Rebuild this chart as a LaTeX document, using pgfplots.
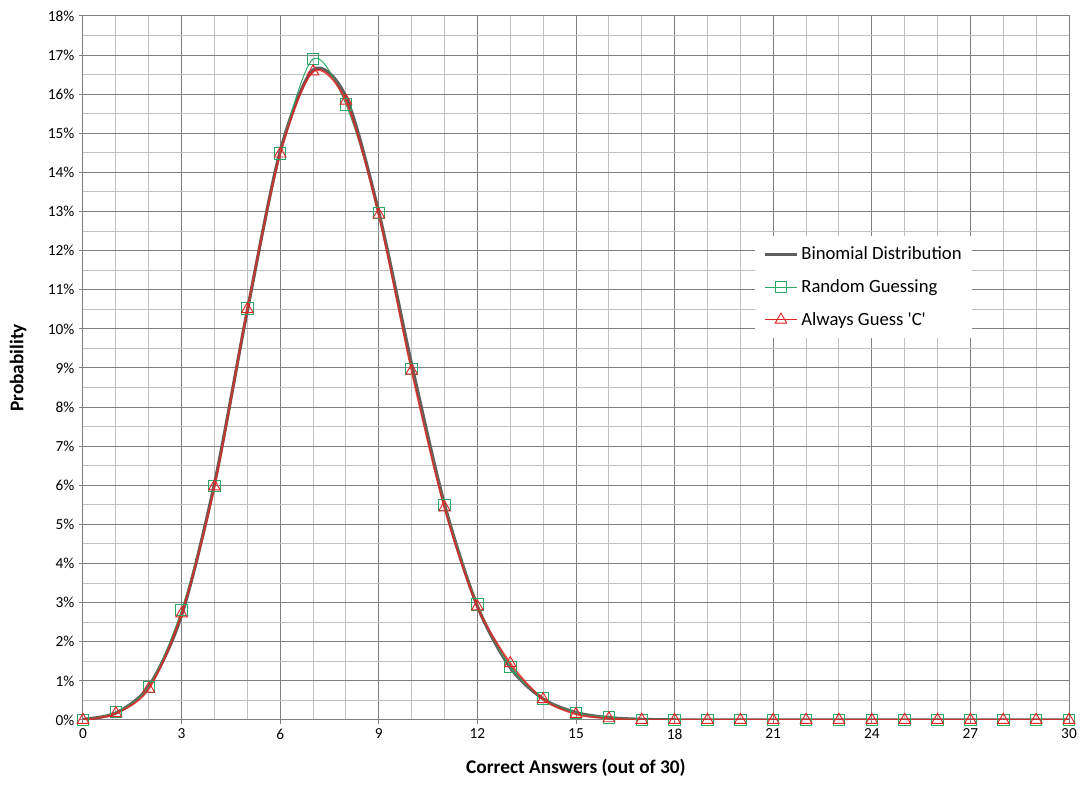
\documentclass[border=0pt]{standalone}
\usepackage{fontspec}
\setmainfont{Carlito}
\usepackage{pgfplots}
\pgfplotsset{compat=1.18}
\usepackage{pgfplotstable}

\definecolor{gridmaj}{RGB}{128,128,128}
\definecolor{gridmin}{RGB}{192,192,192}
\definecolor{binom}{RGB}{96,96,96}
\definecolor{guessgreen}{RGB}{40,170,100}
\definecolor{guessred}{RGB}{225,35,35}

\pgfplotsset{
  legline/.style={legend image code/.code={\draw[##1, line width=2.6pt] (0pt,0pt) -- (24pt,0pt);}},
  legmark/.style={legend image code/.code={\draw[mark repeat=2, mark phase=2, ##1, line width=0.7pt, opacity=1] plot coordinates {(0pt,0pt) (12pt,0pt) (24pt,0pt)};}},
}

% k, probability in percent
\pgfplotstableread{
k p
0 0.018
1 0.18
2 0.86
3 2.68
4 6.04
5 10.47
6 14.54
7 16.62
8 15.93
9 12.98
10 9.09
11 5.51
12 2.91
13 1.34
14 0.54
15 0.19
16 0.06
17 0.016
18 0.004
19 0.0
20 0.0
21 0.0
22 0.0
23 0.0
24 0.0
25 0.0
26 0.0
27 0.0
28 0.0
29 0.0
30 0.0
}\binomtab

\pgfplotstableread{
k p
0 0.0
1 0.2
2 0.85
3 2.82
4 5.98
5 10.52
6 14.48
7 16.9
8 15.74
9 12.97
10 8.97
11 5.5
12 2.95
13 1.36
14 0.55
15 0.18
16 0.07
17 0.0
18 0.0
19 0.0
20 0.0
21 0.0
22 0.0
23 0.0
24 0.0
25 0.0
26 0.0
27 0.0
28 0.0
29 0.0
30 0.0
}\randtab

\pgfplotstableread{
k p
0 0.0
1 0.17
2 0.8
3 2.72
4 5.97
5 10.5
6 14.48
7 16.58
8 15.83
9 12.92
10 8.93
11 5.43
12 2.9
13 1.45
14 0.53
15 0.15
16 0.04
17 0.0
18 0.0
19 0.0
20 0.0
21 0.0
22 0.0
23 0.0
24 0.0
25 0.0
26 0.0
27 0.0
28 0.0
29 0.0
30 0.0
}\ctab

\begin{document}
\begin{tikzpicture}
\path[use as bounding box] (-62.25pt,-59.25pt) rectangle (752.25pt,540pt);
\begin{axis}[
  scale only axis,
  width=739.5pt, height=528pt,
  xmin=0, xmax=30, ymin=0, ymax=18,
  xtick={0,3,...,30}, minor x tick num=2,
  ytick={0,1,...,18}, minor y tick num=1,
  yticklabel={\pgfmathprintnumber{\tick}\%},
  /pgf/number format/assume math mode=true,
  tick label style={font=\fontsize{11.5}{13}\selectfont, black},
  grid=both,
  major grid style={gridmaj, line width=0.75pt},
  minor grid style={gridmin, line width=0.75pt},
  axis line style={gridmaj, line width=0.75pt},
  tick align=outside,
  major tick length=3pt, minor tick length=0pt,
  tick style={gridmaj, line width=0.75pt},
  xtick pos=bottom, ytick pos=left,
  xlabel={\textbf{Correct Answers (out of 30)}},
  ylabel={\textbf{Probability}},
  every axis x label/.style={at={(axis description cs:0.5,-0.0682)}, anchor=center, font=\fontsize{14.5}{16}\selectfont},
  every axis y label/.style={at={(axis description cs:-0.0659,0.5)}, rotate=90, anchor=center, font=\fontsize{14.5}{16}\selectfont},
  legend style={at={(rel axis cs:0.6815,0.6875)}, anchor=north west,
    draw=none, fill=white, font=\fontsize{14}{16}\selectfont,
    row sep=9.3pt, inner sep=6pt},
  legend cell align=left,
]
\addplot[binom, line width=2.4pt, smooth, tension=0.5, legline]
  table[x=k, y=p] {\binomtab};
\addlegendentry{Binomial\ Distribution}
\addplot[guessgreen, line width=0.7pt, smooth, tension=0.5, mark=square, mark size=4.3pt,
  mark options={line width=0.7pt}, legmark]
  table[x=k, y=p] {\randtab};
\addlegendentry{Random Guessing}
\addplot[guessred, line width=1.5pt, opacity=0.8, smooth, tension=0.5, mark=triangle, mark size=5pt,
  mark options={line width=0.7pt, opacity=1}, legmark]
  table[x=k, y=p] {\ctab};
\addlegendentry{Always Guess \textquotesingle C\textquotesingle}
\end{axis}
\end{tikzpicture}
\end{document}
